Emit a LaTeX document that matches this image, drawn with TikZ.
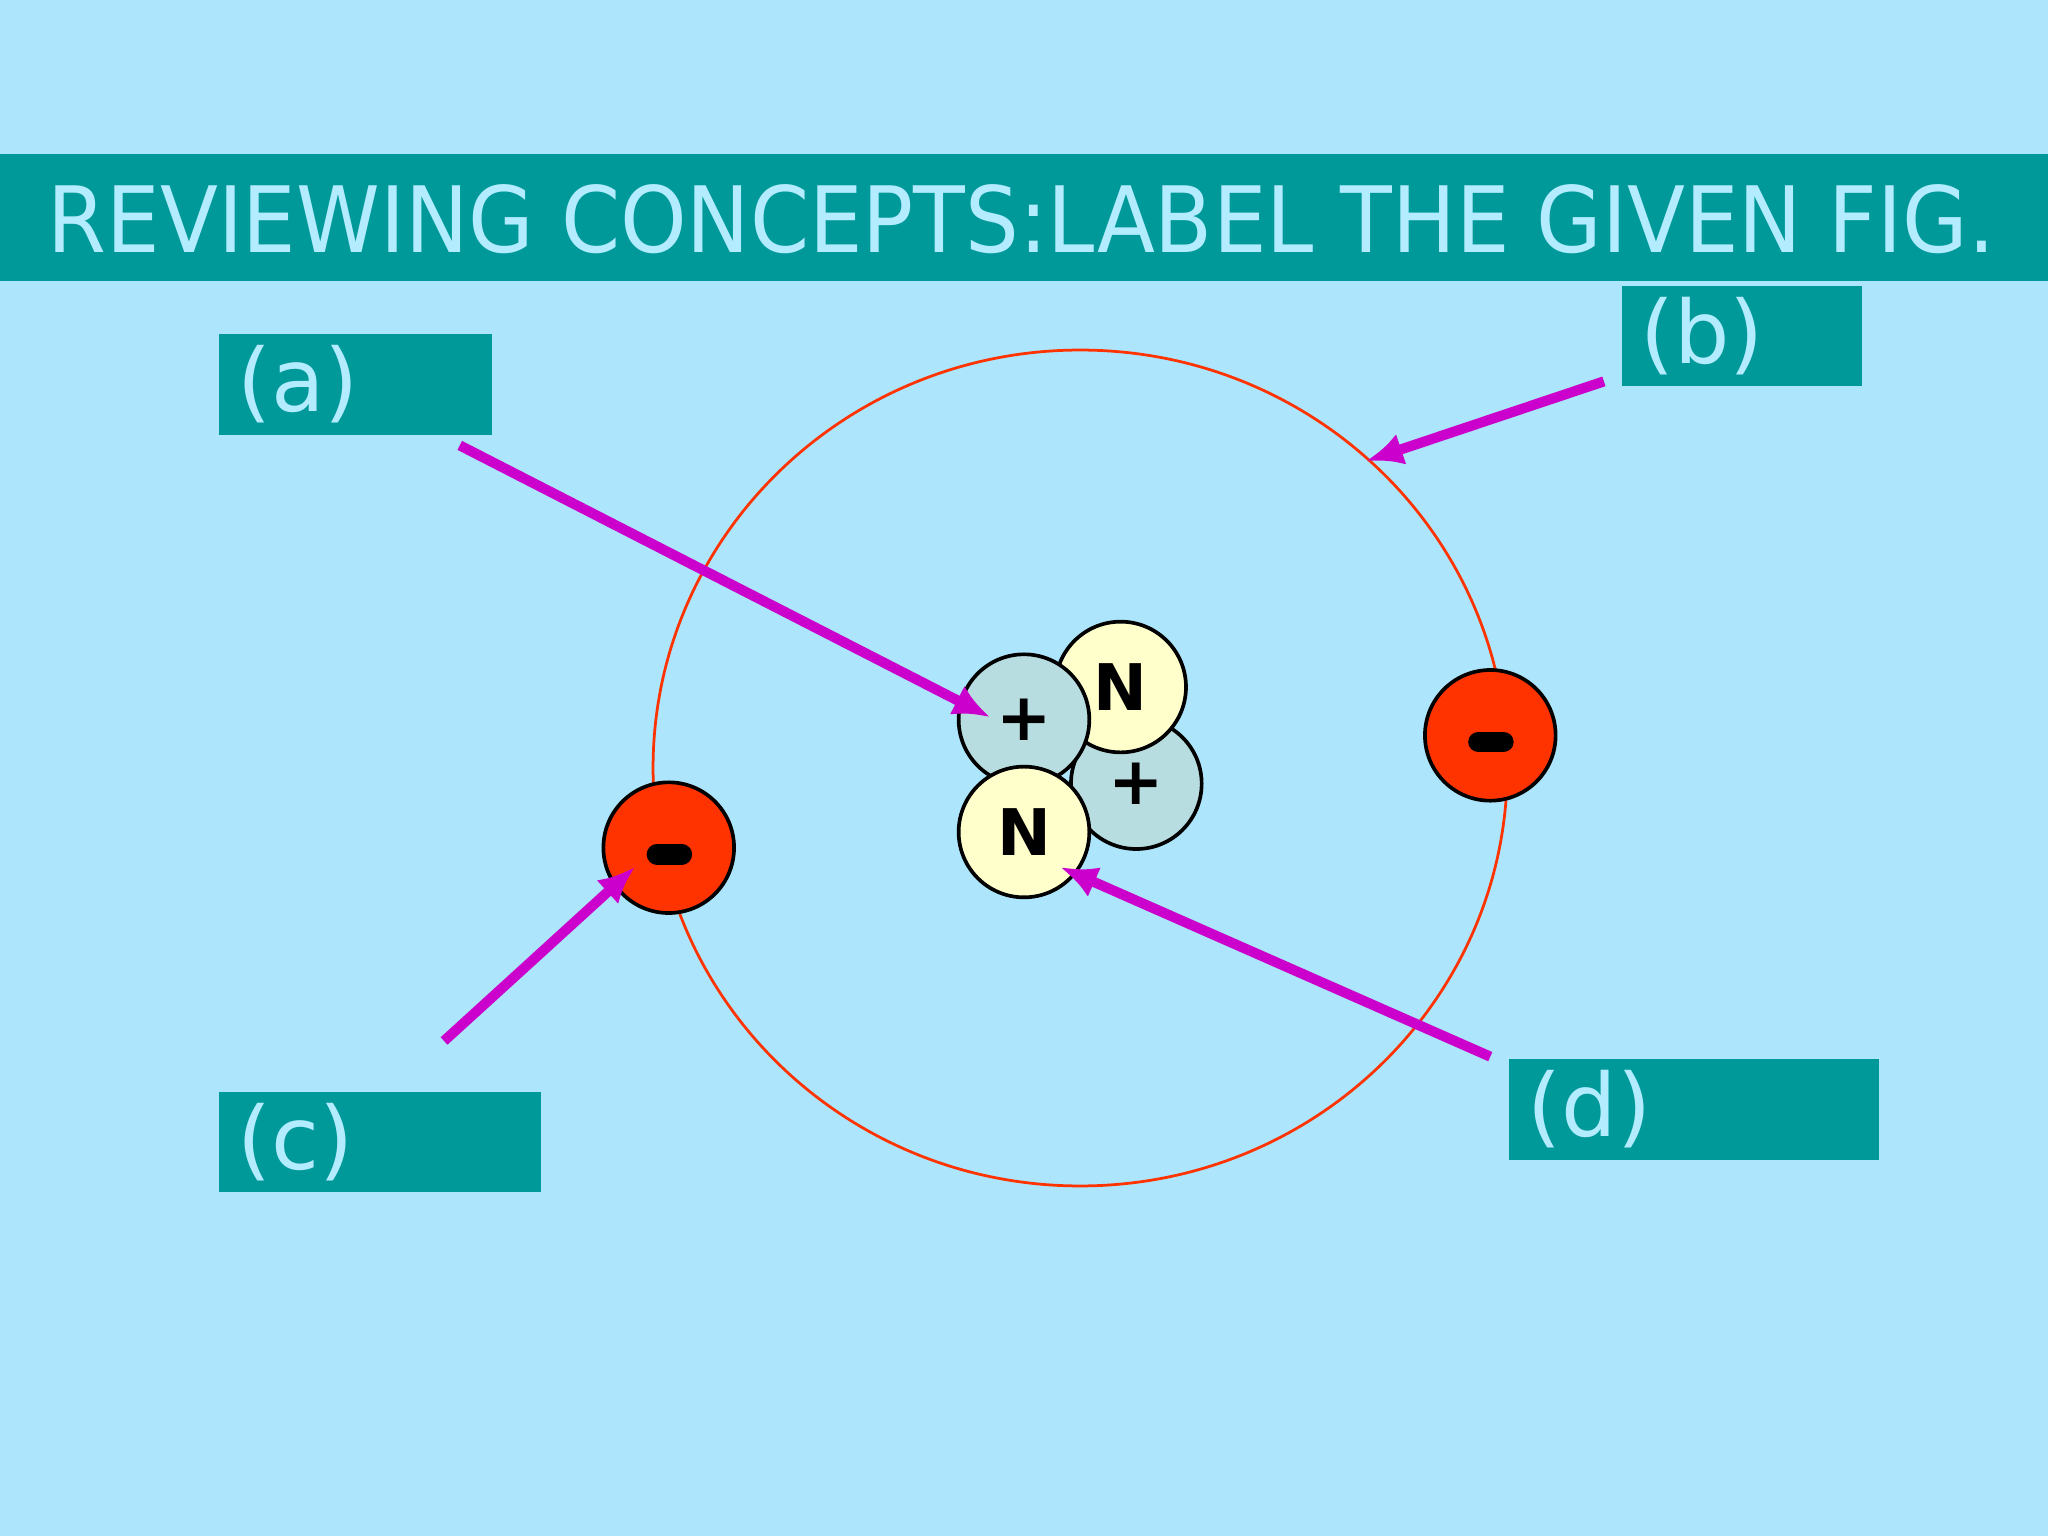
\documentclass[tikz,border=0pt]{standalone}
\usepackage{fontspec}
\setmainfont{DejaVu Sans}
\usetikzlibrary{arrows.meta}
\definecolor{bg}{HTML}{ADE6FC}
\definecolor{teal}{HTML}{009999}
\definecolor{lt}{HTML}{B3ECFF}
\definecolor{el}{HTML}{FF3300}
\definecolor{pr}{HTML}{B8DDE0}
\definecolor{nu}{HTML}{FFFFCC}
\definecolor{mg}{HTML}{CC00CC}
\begin{document}
\begin{tikzpicture}[x=0.01cm,y=-0.01cm,
 lbox/.style={fill=teal,draw=none,anchor=north west,minimum height=0.77cm,inner sep=0,text=lt,font=\fontsize{19}{21}\selectfont,align=left},
 part/.style={circle,draw=black,line width=0.8pt,minimum size=1cm,inner sep=0,font=\fontsize{14}{14}\selectfont},
 minus/.style={line width=4.5pt,line cap=round},
 arr/.style={draw=mg,line width=2.2pt,-{Latex[length=8pt,width=7pt]}}]
\fill[bg] (0,0) rectangle (1568,1176);
\useasboundingbox (0,0) rectangle (1568,1176);
\fill[teal] (0,118) rectangle (1568,215);
\node[text=lt,anchor=center] (title) at (782,168) {\resizebox{14.9cm}{0.52cm}{REVIEWING CONCEPTS:LABEL THE GIVEN FIG.}};
\node[lbox,minimum width=2.09cm,text width=2.09cm] (a) at (167,255) {\hspace{0.14cm}(a)};
\node[lbox,minimum width=1.84cm,text width=1.84cm] (b) at (1241,218) {\hspace{0.14cm}(b)};
\node[lbox,minimum width=2.46cm,text width=2.46cm] (c) at (167,835) {\hspace{0.14cm}(c)};
\node[lbox,minimum width=2.83cm,text width=2.83cm] (d) at (1155,810) {\hspace{0.14cm}(d)};
\draw[el,line width=0.6pt] (827,588) ellipse [x radius=327,y radius=-320];
\node[part,fill=el] (e1) at (512,649) {};
\node[part,fill=el] (e2) at (1141,563) {};
\draw[minus] (503,654) -- (522,654);
\draw[minus] (1132,568) -- (1151,568);
\node[part,fill=pr] (p2) at (870,600) {\textbf{\Large +}};
\node[part,fill=nu] (n1) at (858,526) {\textbf{N}};
\node[part,fill=pr] (p1) at (784,551) {\textbf{\Large +}};
\node[part,fill=nu] (n2) at (784,637) {\textbf{N}};
\coordinate (as) at (352,341); \coordinate (at) at (758,549);
\coordinate (bs) at (1228,292); \coordinate (bt) at (1046,353);
\coordinate (cs) at (340,797); \coordinate (ct) at (486,664);
\coordinate (ds) at (1141,809); \coordinate (dt) at (812,664);
\draw[arr] (as) -- (at);
\draw[arr] (bs) -- (bt);
\draw[arr] (cs) -- (ct);
\draw[arr] (ds) -- (dt);
\end{tikzpicture}
\end{document}
